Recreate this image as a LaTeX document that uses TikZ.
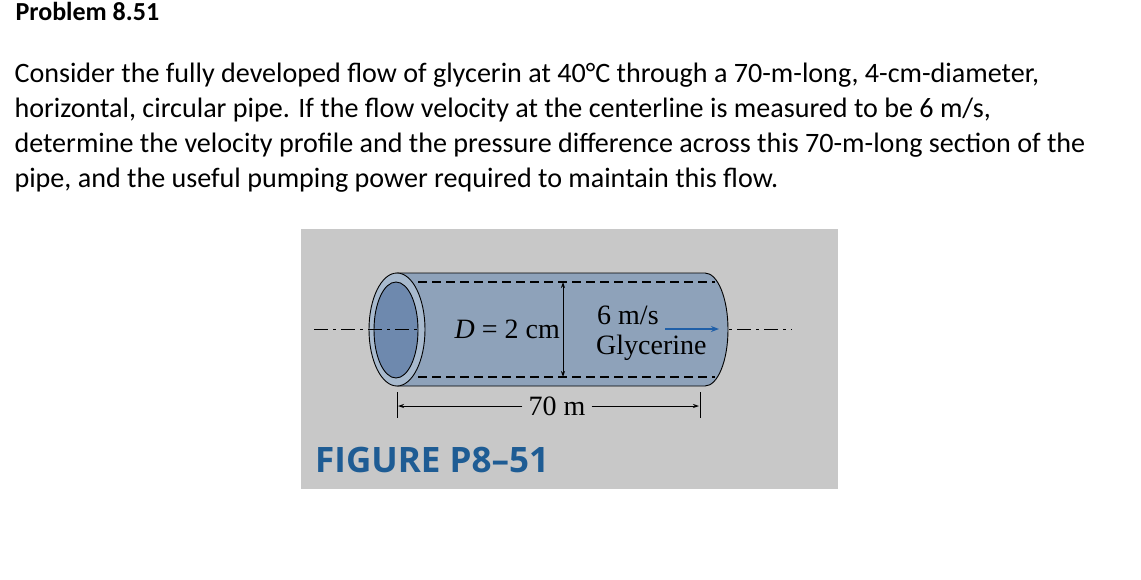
\documentclass[tikz,border=0pt]{standalone}
\usepackage{fontspec}
\setmainfont{Carlito}
\newfontfamily\tms{Liberation Serif}
\newfontfamily\figf{Open Sans}
\usetikzlibrary{arrows.meta}
\definecolor{panel}{HTML}{C8C8C8}
\definecolor{pipe}{HTML}{8EA2BA}
\definecolor{pipein}{HTML}{6E89AE}
\definecolor{ring}{HTML}{A8BACE}
\definecolor{figblue}{HTML}{1E5C94}
\definecolor{flowblue}{HTML}{1F5FA8}
\tikzset{body/.style={anchor=west,font=\fontsize{28.1}{28.1}\selectfont},
 lbl/.style={font=\tms\fontsize{28}{28}\selectfont,inner sep=0pt},
 dashln/.style={dash pattern=on 9pt off 5pt,line width=1.1pt}}
\begin{document}
\begin{tikzpicture}[x=1pt,y=-1pt]
\useasboundingbox (0,0) rectangle (1141,579);
\node[anchor=west,font=\bfseries\fontsize{26}{26}\selectfont] (title) at (12,11) {Problem 8.51};
\node[body] (l1) at (11,75) {Consider the fully developed flow of glycerin at 40°C through a 70-m-long, 4-cm-diameter,};
\node[body] (l2) at (11,110) {horizontal, circular pipe. If the flow velocity at the centerline is measured to be 6 m/s,};
\node[body] (l3) at (11,145) {determine the velocity profile and the pressure difference across this 70-m-long section of the};
\node[body] (l4) at (11,180) {pipe, and the useful pumping power required to maintain this flow.};
\fill[panel] (301,229) rectangle (838,489);
% pipe body
\draw[fill=pipe,line width=0.9pt] (397,273) -- (705,273) arc[start angle=-90,end angle=90,x radius=23,y radius=56.5] -- (397,386) -- cycle;
\draw[dashln] (418,282) -- (715,282);
\draw[dashln] (418,377) -- (715,377);
% left end
\draw[fill=ring,line width=0.9pt] (397,329.5) ellipse[x radius=28,y radius=56.5];
\draw[fill=pipein,line width=0.9pt] (396,330) ellipse[x radius=22,y radius=48];
% centerline
\draw[line width=1pt,dash pattern=on 14pt off 5pt on 3pt off 5pt] (314,329) -- (418,329);
\draw[line width=1pt,dash pattern=on 3pt off 5pt on 14pt off 5pt] (729,329) -- (792,329);
% diameter
\draw[{Stealth[length=6pt,width=4pt]}-{Stealth[length=6pt,width=4pt]},line width=0.8pt] (563,282) -- (563,377);
\node[lbl,anchor=east] (D) at (560,329) {\itshape D\upshape\ = 2 cm};
\node[lbl,anchor=west] (v) at (597,315) {6 m/s};
\node[lbl,anchor=west] (g) at (596,348) {Glycerine};
\draw[flowblue,line width=1.4pt,-{Stealth[length=8pt,width=6pt]}] (665,329) -- (719,329);
% length
\node[lbl,fill=panel,inner xsep=6pt] (L) at (557,406) {70 m};
\draw[line width=0.8pt] (397,392) -- (397,418);
\draw[line width=0.8pt] (700,392) -- (700,418);
\draw[-{Stealth[length=6pt,width=4pt]},line width=0.8pt] (L.west) -- (398,406);
\draw[-{Stealth[length=6pt,width=4pt]},line width=0.8pt] (L.east) -- (699,406);
\node[anchor=west,text=figblue,font=\figf\bfseries\fontsize{35}{35}\selectfont,inner sep=0pt] (fig) at (315,460) {FIGURE P8–51};
\end{tikzpicture}
\end{document}
